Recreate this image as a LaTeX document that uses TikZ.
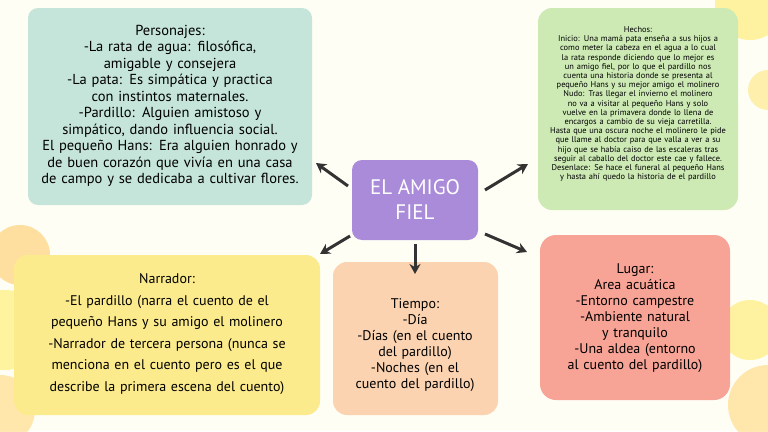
\documentclass[tikz,border=0pt]{standalone}
\usepackage{fontspec}
\setmainfont{PT Sans}
\usetikzlibrary{arrows.meta}
\begin{document}
\begin{tikzpicture}[x=1pt,y=-1pt,
 box/.style={align=center,inner sep=2pt,anchor=center,execute at begin node={\hyphenpenalty=10000\exhyphenpenalty=10000}},
 arr/.style={-{Stealth[length=10pt,width=11pt]},line width=3pt,draw=black!80}]
\useasboundingbox (0,0) rectangle (768,431);
\fill[white!96!yellow] (0,0) rectangle (768,431);
% splashes
\fill[yellow!80!orange,opacity=.35] (750,5) circle (35);
\fill[yellow!70!orange,opacity=.3] (768,90) circle (20);
\fill[orange!70!yellow,opacity=.35] (20,255) circle (30);
\fill[yellow!85!orange,opacity=.35] (5,330) circle (40);
\fill[orange!60!yellow,opacity=.3] (0,410) circle (35);
\fill[yellow!80!orange,opacity=.35] (750,330) circle (30);
\fill[orange!60!yellow,opacity=.3] (768,405) circle (40);
% boxes
\fill[fill={rgb,255:red,197;green,228;blue,218}, rounded corners=10pt] (28,8) rectangle (312,205);
\node[box,text width=282pt,font=\fontsize{14.5}{16.5}\selectfont] (pers) at (170,106) {Personajes:\\-La rata de agua: filosófica, amigable y consejera\\-La pata: Es simpática y practica con instintos maternales.\\-Pardillo: Alguien amistoso y simpático, dando influencia social.\\El pequeño Hans: Era alguien honrado y de buen corazón que vivía en una casa de campo  y se dedicaba a cultivar flores.};
\fill[fill={rgb,255:red,205;green,234;blue,181}, rounded corners=14pt] (538,8) rectangle (738,210);
\node[box,text width=188pt,font=\fontsize{8.4}{9.2}\selectfont] (hech) at (638,104) {Hechos:\\Inicio:  Una mamá pata enseña a sus hijos a como meter la cabeza en el agua a lo cual la rata responde diciendo que lo mejor es un amigo fiel, por lo que el pardillo nos cuenta una historia donde se presenta al pequeño Hans y su mejor amigo el molinero\\Nudo: Tras llegar el invierno el molinero no va a visitar al pequeño Hans y solo vuelve en la primavera donde lo llena de encargos a cambio de su vieja carretilla.\\Hasta que una oscura noche el molinero le pide que llame al doctor para que valla a ver a su hijo que se había caiso de las escaleras tras seguir al caballo del doctor este cae y fallece.\\Desenlace: Se hace el funeral al pequeño Hans y hasta ahí quedo la historia de el pardillo};
\fill[fill={rgb,255:red,169;green,139;blue,217}, rounded corners=10pt] (352,160) rectangle (478,240);
\node[box,text=white,font=\fontsize{21}{25}\selectfont] (main) at (415,200) {EL AMIGO\\FIEL};
\fill[fill={rgb,255:red,252;green,235;blue,140}, rounded corners=14pt] (14,255) rectangle (320,415);
\node[box,text width=300pt,font=\fontsize{14}{21.5}\selectfont] (narr) at (167,334) {Narrador:\\-El pardillo (narra el cuento de el pequeño Hans y su amigo el molinero\\-Narrador de tercera persona (nunca se menciona en el cuento pero es el que describe la primera escena del cuento)};
\fill[fill={rgb,255:red,251;green,211;blue,176}, rounded corners=14pt] (333,262) rectangle (498,415);
\node[box,text width=150pt,font=\fontsize{14}{16}\selectfont] (tiem) at (415,345) {Tiempo:\\-Día\\-Días (en el cuento del pardillo)\\-Noches (en el cuento del pardillo)};
\fill[fill={rgb,255:red,247;green,163;blue,150}, rounded corners=16pt] (540,235) rectangle (730,400);
\node[box,text width=165pt,font=\fontsize{14}{16}\selectfont] (lug) at (635,318) {Lugar:\\Area acuática\\-Entorno campestre\\-Ambiente natural y tranquilo\\-Una aldea (entorno al cuento del pardillo)};
% arrows
\coordinate (a1) at (316,163); \coordinate (a2) at (528,164);
\coordinate (a3) at (320,254); \coordinate (a4) at (415,274);
\coordinate (a5) at (527,252);
\coordinate (s1) at (348,186); \coordinate (s2) at (485,190);
\coordinate (s3) at (350,236); \coordinate (s4) at (415,244);
\coordinate (s5) at (485,234);
\foreach \i in {1,...,5} \draw[arr] (s\i) -- (a\i);
\end{tikzpicture}
\end{document}
